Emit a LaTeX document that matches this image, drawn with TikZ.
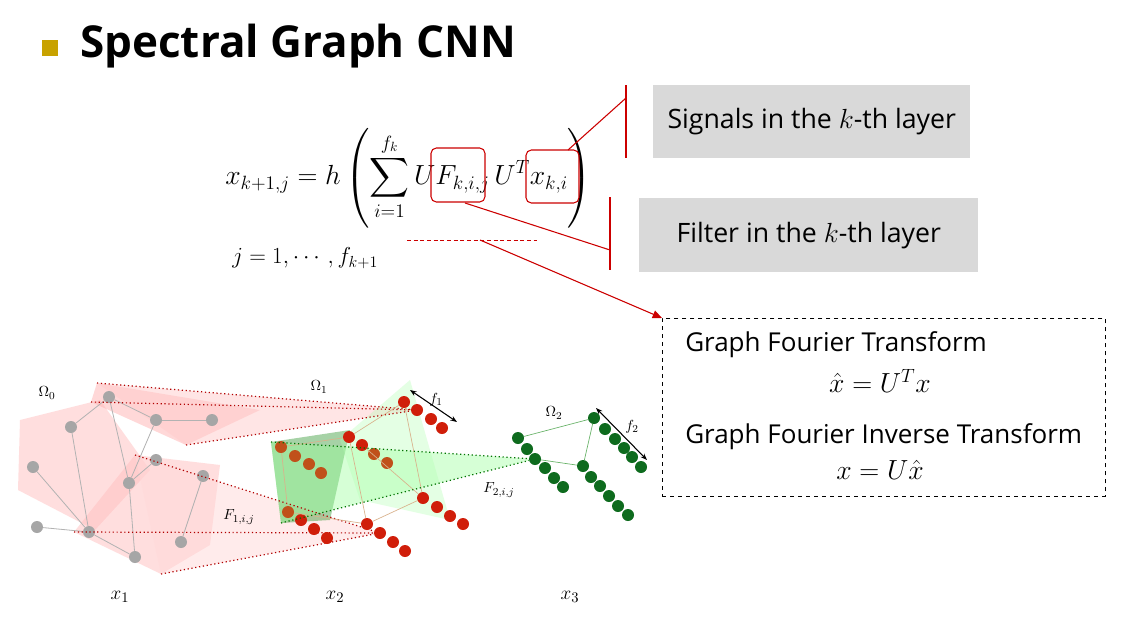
\documentclass[tikz,border=0pt]{standalone}
\usepackage{fontspec}
\usepackage{amsmath}
\setmainfont{Open Sans}
\usetikzlibrary{arrows.meta}
\definecolor{gold}{HTML}{C8A200}
\definecolor{rdot}{HTML}{D01E0A}
\definecolor{odot}{HTML}{C0501A}
\definecolor{gdot}{HTML}{0E6B1E}
\tikzset{
 gnode/.style={circle,fill=gray!70,inner sep=0pt,minimum size=9pt},
 rn/.style={circle,fill=rdot,inner sep=0pt,minimum size=9pt},
 on/.style={circle,fill=odot,inner sep=0pt,minimum size=9pt},
 gn/.style={circle,fill=gdot,inner sep=0pt,minimum size=9pt},
 gedge/.style={draw=gray!60,line width=0.6pt},
 rdots/.style={draw=red!70!black,dotted,line width=0.9pt},
 gdots/.style={draw=green!45!black,dotted,line width=0.9pt},
 lbl/.style={inner sep=0pt},
 graybox/.style={fill=gray!30,inner sep=0pt},
 boxtxt/.style={font=\fontsize{20}{24}\selectfont,inner sep=0pt},
 ftxt/.style={font=\fontsize{19.5}{23}\selectfont,inner sep=0pt},
 redbox/.style={draw=red!80!black,rounded corners=4pt,line width=0.8pt},
 redline/.style={draw=red!80!black,line width=0.8pt},
}
\begin{document}
\begin{tikzpicture}[x=0.75pt,y=-0.75pt]
\useasboundingbox (0,0) rectangle (1124,621);
\fill[white] (0,0) rectangle (1124,621);
% title
\fill[gold] (42,40) rectangle (58,56);
\node[anchor=west,font=\bfseries\fontsize{33}{37}\selectfont,inner sep=0pt] (title) at (80,46) {Spectral Graph CNN};
% equation
\node[anchor=west,inner sep=0pt,font=\fontsize{20}{24}\selectfont] (eq) at (225,178) {$\displaystyle x_{k+1,j}=h\left(\sum_{i=1}^{f_k}U F_{k,i,j}\,U^T x_{k,i}\right)$};
\node[anchor=west,inner sep=0pt,font=\fontsize{18}{22}\selectfont] (jeq) at (232,258) {$j=1,\cdots,f_{k+1}$};
\draw[redbox] (431,148) rectangle (485,202);
\coordinate (fbb) at (465,203);
\draw[redbox] (526,150) rectangle (579,203);
\coordinate (xbt) at (568,150);
% label boxes
\node[graybox,minimum width=317*0.75pt,minimum height=73*0.75pt,anchor=north west] (sig) at (653,85) {};
\node[boxtxt] at (sig.center) {Signals in the $k$-th layer};
\node[graybox,minimum width=339*0.75pt,minimum height=74*0.75pt,anchor=north west] (fil) at (639,198) {};
\node[boxtxt] at (fil.center) {Filter in the $k$-th layer};
\coordinate (s1) at (626,85); \coordinate (s2) at (626,158); \coordinate (s3) at (626,98);
\draw[redline] (s1) -- (s2);
\draw[redline] (xbt) -- (s3);
\coordinate (f1) at (610,197); \coordinate (f2) at (610,270); \coordinate (f3) at (610,250);
\draw[redline] (f1) -- (f2);
\draw[redline] (fbb) -- (f3);
\coordinate (d1) at (407,240); \coordinate (d2) at (537,240); \coordinate (d3) at (480,240);
\draw[red!80!black,densely dashed,line width=0.6pt] (d1) -- (d2);
% fourier box
\node[draw,dashed,line width=0.7pt,minimum width=443*0.75pt,minimum height=178*0.75pt,anchor=north west,inner sep=0pt] (four) at (662,318) {};
\draw[redline,-{Triangle[length=7pt,width=6pt]}] (d3) -- (four.north west);
\node[ftxt,anchor=west] at (685,345) {Graph Fourier Transform};
\node[ftxt] at (880,381) {$\hat{x}=U^Tx$};
\node[ftxt,anchor=west] at (685,437) {Graph Fourier Inverse Transform};
\node[ftxt] at (880,470) {$x=U\hat{x}$};
% shaded regions
\fill[red!25,opacity=0.5] (20,420) -- (100,400) -- (150,470) -- (95,530) -- (18,490) -- cycle;
\fill[red!30,opacity=0.5] (97,383) -- (91,402) -- (186,445) -- (260,410) -- cycle;
\fill[red!20,opacity=0.5] (97,383) -- (417,410) -- (186,445) -- cycle;
\fill[red!25,opacity=0.5] (135,455) -- (220,465) -- (210,545) -- (161,574) -- (74,532) -- cycle;
\fill[red!15,opacity=0.5] (135,455) -- (380,533) -- (161,574) -- cycle;
\fill[green!50!black,opacity=0.35] (271,442) -- (350,430) -- (330,520) -- (281,523) -- cycle;
\fill[green!40,opacity=0.4] (271,442) -- (535,459) -- (281,523) -- cycle;
\fill[green!30,opacity=0.35] (340,440) -- (410,380) -- (450,520) -- (360,500) -- cycle;
% gray graph
\foreach \n/\p in {a/{109,397},b/{71,427},c/{156,420},d/{212,420},e/{33,467},f/{156,460},g/{129,483},h/{203,476},i/{37,527},j/{89,532},k/{181,542},l/{135,557}}
  \node[gnode] (\n) at (\p) {};
\foreach \u/\v in {a/b,a/c,c/d,a/g,b/j,e/j,c/g,g/f,g/l,j/l,i/j,h/k}
  \draw[gedge] (\u) -- (\v);
% dotted projections
\coordinate (p1) at (97,383); \coordinate (p2) at (91,402); \coordinate (p3) at (186,445);
\node[rn] (r2) at (417,410) {};
\draw[rdots] (p1) -- (r2); \draw[rdots] (p2) -- (r2); \draw[rdots] (p3) -- (r2);
\coordinate (q1) at (135,455); \coordinate (q2) at (74,532); \coordinate (q3) at (161,574);
\node[rn] (s2n) at (380,533) {};
\draw[rdots] (q1) -- (s2n); \draw[rdots] (q2) -- (s2n); \draw[rdots] (q3) -- (s2n);
% red nodes
\node[rn] (r1) at (404,402) {}; \node[rn] (r3) at (431,419) {}; \node[rn] (r4) at (442,428) {};
\node[rn] (m1) at (349,437) {}; \node[rn] (m2) at (362,445) {}; \node[on] (m3) at (374,454) {}; \node[on] (m4) at (387,463) {};
\node[on] (o1) at (281,447) {}; \node[on] (o2) at (295,456) {}; \node[on] (o3) at (309,464) {}; \node[on] (o4) at (321,473) {};
\node[on] (u1) at (288,512) {}; \node[rn] (u2) at (301,520) {}; \node[rn] (u3) at (314,529) {}; \node[rn] (u4) at (327,538) {};
\node[rn] (s1n) at (367,524) {}; \node[rn] (s3n) at (393,542) {}; \node[rn] (s4n) at (405,551) {};
\node[rn] (v1) at (423,498) {}; \node[rn] (v2) at (437,507) {}; \node[rn] (v3) at (450,516) {}; \node[rn] (v4) at (463,524) {};
\foreach \u/\v in {o1/m1,m1/r1,m1/s1n,o1/u1,u1/s1n,m2/v1,r1/v1,s1n/v1}
  \draw[draw=brown!60,line width=0.5pt] (\u) -- (\v);
% green nodes
\foreach \n/\p in {t1/{594,418},t2/{605,429},t3/{615,439},t4/{624,448},t5/{632,457},t6/{641,467},
  w1/{518,438},w2/{527,449},w3/{535,459},w4/{545,468},w5/{554,478},w6/{563,487},
  z1/{583,466},z2/{591,477},z3/{600,486},z4/{609,496},z5/{618,506},z6/{628,515}}
  \node[gn] (\n) at (\p) {};
\foreach \u/\v in {w1/t1,t1/z1,w3/z1}
  \draw[draw=green!50!black!60,line width=0.5pt] (\u) -- (\v);
\coordinate (g1) at (271,442); \coordinate (g2) at (281,523);
\draw[gdots] (g1) -- (w3); \draw[gdots] (g2) -- (w3);
% arrows f
\coordinate (fa1) at (410,390); \coordinate (fa2) at (457,422);
\draw[{Stealth[length=5pt]}-{Stealth[length=5pt]},line width=0.8pt] (fa1) -- (fa2);
\coordinate (fb1) at (596,408); \coordinate (fb2) at (647,460);
\draw[{Stealth[length=5pt]}-{Stealth[length=5pt]},line width=0.8pt] (fb1) -- (fb2);
% labels
\node[lbl,font=\fontsize{11}{13}\selectfont] (om0) at (47,393) {$\Omega_0$};
\node[lbl,font=\fontsize{11}{13}\selectfont] (om1) at (319,387) {$\Omega_1$};
\node[lbl,font=\fontsize{11}{13}\selectfont] (om2) at (554,413) {$\Omega_2$};
\node[lbl,font=\fontsize{11}{13}\selectfont] (lf1) at (436,400) {$f_1$};
\node[lbl,font=\fontsize{11}{13}\selectfont] (lf2) at (632,427) {$f_2$};
\node[lbl,font=\fontsize{11}{13}\selectfont] (F1) at (239,517) {$F_{1,i,j}$};
\node[lbl,font=\fontsize{11}{13}\selectfont] (F2) at (499,490) {$F_{2,i,j}$};
\node[lbl,font=\fontsize{15}{18}\selectfont] (x1) at (120,597) {$x_1$};
\node[lbl,font=\fontsize{15}{18}\selectfont] (x2) at (335,597) {$x_2$};
\node[lbl,font=\fontsize{15}{18}\selectfont] (x3) at (570,597) {$x_3$};
\end{tikzpicture}
\end{document}
